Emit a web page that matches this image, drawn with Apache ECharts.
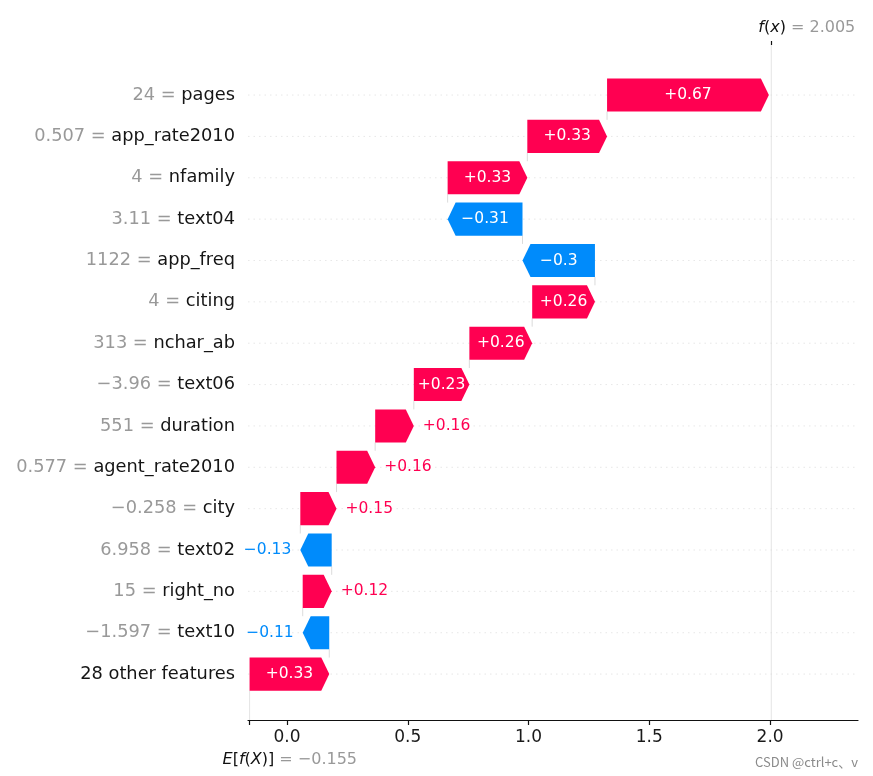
<!DOCTYPE html>
<html>
<head>
<meta charset="utf-8">
<script src="https://cdn.jsdelivr.net/npm/echarts@6/dist/echarts.min.js"></script>
<style>html,body{margin:0;padding:0;background:#fff;}#chart{width:873px;height:776px;}</style>
</head>
<body>
<div id="chart"></div>
<script>
// ---- data ----
const features = ['pages','app_rate2010','nfamily','text04','app_freq','citing','nchar_ab','text06','duration','agent_rate2010','city','text02','right_no','text10','28 other features'];
const featureValues = ['24','0.507','4','3.11','1122','4','313','\u22123.96','551','0.577','\u22120.258','6.958','15','\u22121.597',''];
const shapValues = [0.67,0.33,0.33,-0.31,-0.3,0.26,0.26,0.23,0.16,0.16,0.15,-0.13,0.12,-0.11,0.33];
const baseValue = -0.155;
const fxValue = 2.005;
const xLabelTicks = [0, 0.5, 1, 1.5, 2];

// ---- styling ----
const RED = '#ff0051', BLUE = '#008bfb';
const FONT = 'DejaVu Sans';
const N = features.length;
const Y_MIN = -1.21, Y_MAX = N - 1 + 1.11;
const BAR_H = 0.8;
const LABEL_FS = 17.8, BAR_FS = 15.5;

// cumulative starts/ends from bottom upward
const starts = new Array(N), ends = new Array(N);
let acc = baseValue;
for (let i = N - 1; i >= 0; i--) { starts[i] = acc; acc += shapValues[i]; ends[i] = acc; }

function fmt(v) {
  const s = String(parseFloat(Math.abs(v).toFixed(2)));
  return (v >= 0 ? '+' : '\u2212') + s;
}
const mctx = document.createElement('canvas').getContext('2d');
mctx.font = BAR_FS + 'px "' + FONT + '"';
function tw(t) { return mctx.measureText(t).width; }

const barData = features.map((f, i) => [i, starts[i], ends[i], shapValues[i]]);

function renderBar(params, api) {
  const i = api.value(0), s = api.value(1), e = api.value(2), v = api.value(3);
  const pS = api.coord([s, i]);
  const pE = api.coord([e, i]);
  const h = Math.abs(api.size([0, BAR_H])[1]);
  const yT = pS[1] - h / 2, yB = pS[1] + h / 2, yM = pS[1];
  const w = Math.abs(pE[0] - pS[0]);
  const head = Math.min(8, w);
  const pos = v >= 0;
  const color = pos ? RED : BLUE;
  let pts;
  if (pos) {
    pts = [[pS[0], yT], [pE[0] - head, yT], [pE[0], yM], [pE[0] - head, yB], [pS[0], yB]];
  } else {
    pts = [[pS[0], yT], [pE[0] + head, yT], [pE[0], yM], [pE[0] + head, yB], [pS[0], yB]];
  }
  const children = [];
  const cs = params.coordSys;
  // row dotted line
  children.push({ type: 'line', z2: 0, shape: { x1: cs.x, y1: yM, x2: cs.x + cs.width, y2: yM },
    style: { stroke: '#dddddd', lineWidth: 0.7, lineDash: [1.5, 4] } });
  // connector to the bar below
  const nextTop = api.coord([s, i + 1 - BAR_H / 2])[1];
  if (i < N - 1) {
    children.push({ type: 'line', z2: 1, shape: { x1: pS[0], y1: yB, x2: pS[0], y2: nextTop },
      style: { stroke: '#cccccc', lineWidth: 0.7 } });
  } else {
    children.push({ type: 'line', z2: 1, shape: { x1: pS[0], y1: yB, x2: pS[0], y2: cs.y + cs.height },
      style: { stroke: '#dddddd', lineWidth: 0.8 } });
  }
  children.push({ type: 'polygon', z2: 5, shape: { points: pts }, style: { fill: color } });
  const txt = fmt(v);
  const font = BAR_FS + 'px "' + FONT + '"';
  if (tw(txt) + 4 < w) {
    children.push({ type: 'text', z2: 6, style: { text: txt, x: (pS[0] + pE[0]) / 2, y: yM,
      align: 'center', verticalAlign: 'middle', fill: '#ffffff', font } });
  } else {
    children.push({ type: 'text', z2: 6, style: { text: txt, x: pos ? pE[0] + 9 : pE[0] - 9, y: yM,
      align: pos ? 'left' : 'right', verticalAlign: 'middle', fill: color, font } });
  }
  // left row label
  const rich = featureValues[i] !== ''
    ? '{v|' + featureValues[i] + ' = }{n|' + features[i] + '}'
    : '{n|' + features[i] + '}';
  children.push({ type: 'text', z2: 6, style: { text: rich, x: cs.x - 13, y: yM, align: 'right', verticalAlign: 'middle',
    rich: { v: { fill: '#999999', fontSize: LABEL_FS, fontFamily: FONT }, n: { fill: '#151515', fontSize: LABEL_FS, fontFamily: FONT } } } });
  return { type: 'group', children };
}

function renderRefs(params, api) {
  const cs = params.coordSys;
  const pF = api.coord([fxValue, Y_MIN]);
  const pB = api.coord([baseValue, Y_MAX]);
  const rs = (fill, italic) => ({ fill, fontSize: 16, fontFamily: FONT, fontStyle: italic ? 'italic' : 'normal' });
  return { type: 'group', children: [
    { type: 'line', z2: 1, shape: { x1: pF[0], y1: cs.y, x2: pF[0], y2: cs.y + cs.height },
      style: { stroke: '#dddddd', lineWidth: 0.8 } },
    { type: 'text', style: { text: '{i|f}{p|(}{i|x}{p|)}{g| = ' + fxValue.toFixed(3) + '}', x: pF[0] - 13, y: cs.y - 17,
      align: 'left', verticalAlign: 'middle',
      rich: { i: rs('#111', true), p: rs('#111'), g: rs('#999999') } } },
    { type: 'text', style: { text: '{i|E}{p|[}{i|f}{p|(}{i|X}{p|)]}{g| = \u2212' + Math.abs(baseValue).toFixed(3) + '}', x: pB[0] - 27, y: pB[1] + 40,
      align: 'left', verticalAlign: 'middle',
      rich: { i: rs('#111', true), p: rs('#111'), g: rs('#999999') } } }
  ] };
}

const chart = echarts.init(document.getElementById('chart'));
chart.setOption({
  backgroundColor: '#ffffff',
  animation: false,
  grid: { left: 248, right: 15, top: 45, bottom: 56, containLabel: false },
  xAxis: [{
    type: 'value', min: -0.1615, max: 2.364, position: 'bottom',
    axisLine: { show: true, onZero: false, lineStyle: { color: '#111', width: 1.2 } },
    axisTick: { show: true, length: 5, lineStyle: { color: '#111', width: 1.2 }, customValues: [baseValue].concat(xLabelTicks) },
    axisLabel: { show: true, customValues: xLabelTicks, margin: 9, color: '#1a1a1a', fontSize: 17, fontFamily: FONT,
      formatter: v => v.toFixed(1) },
    splitLine: { show: false }
  }, {
    type: 'value', min: -0.1615, max: 2.364, position: 'top',
    axisLine: { show: false, onZero: false },
    axisTick: { show: true, length: 4, lineStyle: { color: '#111', width: 1.2 }, customValues: [fxValue] },
    axisLabel: { show: false },
    splitLine: { show: false }
  }],
  yAxis: {
    type: 'value', min: Y_MIN, max: Y_MAX, inverse: true,
    axisLine: { show: false }, axisTick: { show: false }, axisLabel: { show: false }, splitLine: { show: false }
  },
  series: [
    { type: 'custom', renderItem: renderRefs, data: [[0]], clip: false, z: 1 },
    { type: 'custom', renderItem: renderBar, data: barData, clip: false, z: 2,
      encode: { x: [1, 2], y: 0 } }
  ],
  graphic: [{ type: 'text', right: 15, bottom: 7, style: { text: 'CSDN @ctrl+c\u3001v', fill: '#8a8a8a',
    font: '13px "Noto Sans CJK SC"' } }]
});
</script>
</body>
</html>
